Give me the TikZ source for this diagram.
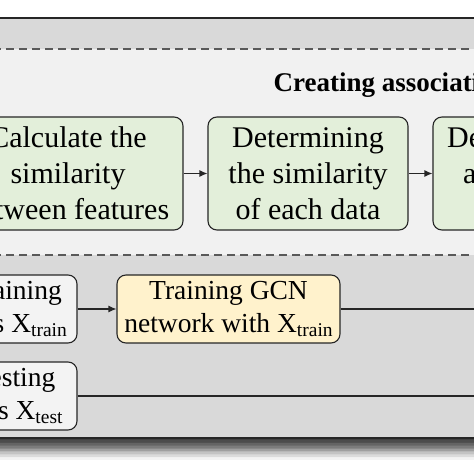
\documentclass[tikz,border=0pt]{standalone}
\usepackage{fontspec}
\setmainfont{Liberation Serif}
\usetikzlibrary{arrows.meta,shadows.blur}
\definecolor{bandgray}{HTML}{D9D9D9}
\definecolor{midgray}{HTML}{F1F1F1}
\definecolor{boxgreen}{HTML}{E3EFDA}
\definecolor{boxyellow}{HTML}{FFF2CC}
\definecolor{boxwhite}{HTML}{F3F3F3}
\newcommand{\subtxt}[1]{\raisebox{-4pt}{\fontsize{19.5}{20}\selectfont #1}}

\begin{document}
\begin{tikzpicture}[x=1pt,y=1pt]

    \tikzset{greenbox/.style={draw=black!85,line width=1.1pt,rounded corners=9pt,fill=boxgreen,
        align=center,minimum height=113pt,inner sep=0pt,font=\fontsize{30}{36}\selectfont}}
    \tikzset{lowbox/.style={draw=black!85,line width=1.1pt,rounded corners=9pt,
        align=center,minimum height=68pt,inner sep=0pt,font=\fontsize{27.5}{33}\selectfont}}
    \tikzset{dashline/.style={draw=black!65,line width=1.2pt,dash pattern=on 8pt off 5pt}}

    \clip (0,0) rectangle (474,474);

    % Bands of the frame.
    \fill[bandgray,blur shadow={shadow xshift=0pt,shadow yshift=-12pt,shadow blur radius=10pt,shadow opacity=75}]
        (-20,36) rectangle (494,456);
    \fill[midgray] (-20,219) rectangle (494,425);
    \draw[dashline] (-20,425) -- (494,425);
    \draw[dashline] (-20,219) -- (494,219);
    \draw[line width=1.1pt,draw=black!85] (-20,36) rectangle (494,456);

    \node[anchor=base west,font=\fontsize{27}{32}\selectfont\bfseries] (title) at (270,382) {Creating association graph};

    \node[greenbox,minimum width=230pt] (simf) at (68,300.5) {Calculate the\\similarity\\between features};
    \node[greenbox,minimum width=200pt] (simd) at (308,300.5) {Determining\\the similarity\\of each data};
    \node[greenbox,minimum width=180pt] (adj) at (523,300.5) {Determining\\adjacency\\matrix};

    \node[lowbox,fill=boxwhite,minimum width=124pt] (train) at (15,165) {Training\\sets X\subtxt{train}};
    \node[lowbox,fill=boxwhite,minimum width=124pt] (test) at (15,78) {Testing\\sets X\subtxt{test}};
    \node[lowbox,fill=boxyellow,minimum width=223pt] (gcn) at (228.5,165) {Training GCN\\network with X\subtxt{train}};

    \coordinate (trainend) at (494,165);
    \coordinate (testend) at (494,78);

    \begin{scope}[line width=1.1pt,draw=black!85,-{Latex[length=8pt,width=7pt]}]
        \draw (simf) -- (simd);
        \draw (simd) -- (adj);
        \draw (train) -- (gcn);
    \end{scope}

    \draw[line width=1.1pt,draw=black!85] (gcn) -- (trainend);
    \draw[line width=1.1pt,draw=black!85] (test) -- (testend);

\end{tikzpicture}
\end{document}
